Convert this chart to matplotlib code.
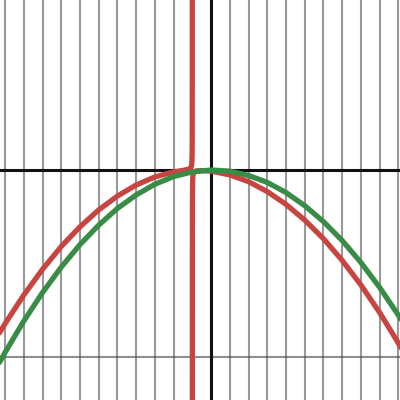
import numpy as np
import matplotlib
matplotlib.use("Agg")
import matplotlib.pyplot as plt

# green curve, points (grid units)
green_x = [-11.3, -11, -10, -9, -8, -7, -6, -5, -4, -3, -2, -1, 0,
           1, 2, 3, 4, 5, 6, 7, 8, 9, 10, 10.2]
green_y = [-10.27, -9.73, -8.06, -6.54, -5.18, -3.98, -2.94, -2.05, -1.33, -0.76, -0.35, -0.10, 0.0,
           -0.06, -0.29, -0.66, -1.20, -1.90, -2.75, -3.76, -4.93, -6.26, -7.74, -8.06]

# red curve, left of the jump at x = -1
red_left_x = [-11.3, -11, -10, -9, -8, -7, -6, -5, -4, -3, -2, -1.5, -1.2,
              -1.1, -1.05, -1.03, -1.02, -1.01, -1.005, -1.002, -1.001]
red_left_y = [-8.69, -8.20, -6.67, -5.30, -4.08, -3.03, -2.13, -1.39, -0.80, -0.37, -0.10, -0.02, 0.04,
              0.09, 0.20, 0.33, 0.50, 1.0, 2.0, 5.0, 10.0]

# red curve, right of the jump
red_right_x = [-0.9992, -0.998, -0.995, -0.99, -0.98, -0.97, -0.95, -0.9, -0.8, -0.5, 0,
               1, 2, 3, 4, 5, 6, 7, 8, 9, 10, 10.2]
red_right_y = [-12.5, -5.0, -2.0, -1.0, -0.50, -0.33, -0.20, -0.10, -0.05, -0.03, -0.06,
               -0.26, -0.62, -1.15, -1.83, -2.67, -3.66, -4.82, -6.13, -7.60, -9.23, -9.58]

grid_x = np.arange(-11, 11)
grid_y = [-10]

RED = "#c74440"
GREEN = "#388c46"

fig = plt.figure(figsize=(4, 4), dpi=100)
ax = fig.add_axes([0, 0, 1, 1])
ax.set_xlim(-11.27, 10.09)
ax.set_ylim(-12.27, 9.07)
ax.axis("off")

for gx in grid_x:
    ax.axvline(gx, color="#999999", lw=1.5, zorder=1)
for gy in grid_y:
    ax.axhline(gy, color="#444444", lw=1.5, alpha=0.6, zorder=1)

ax.axhline(0, color="#111111", lw=2.2, zorder=2)
ax.axvline(0, color="#111111", lw=2.2, zorder=2)

ax.plot(red_left_x, red_left_y, color=RED, lw=3.8, solid_capstyle="round", zorder=3)
ax.plot(red_right_x, red_right_y, color=RED, lw=3.8, solid_capstyle="round", zorder=3)
ax.plot(green_x, green_y, color=GREEN, lw=3.8, solid_capstyle="round", zorder=4)

fig.savefig("out.png", dpi=100)
